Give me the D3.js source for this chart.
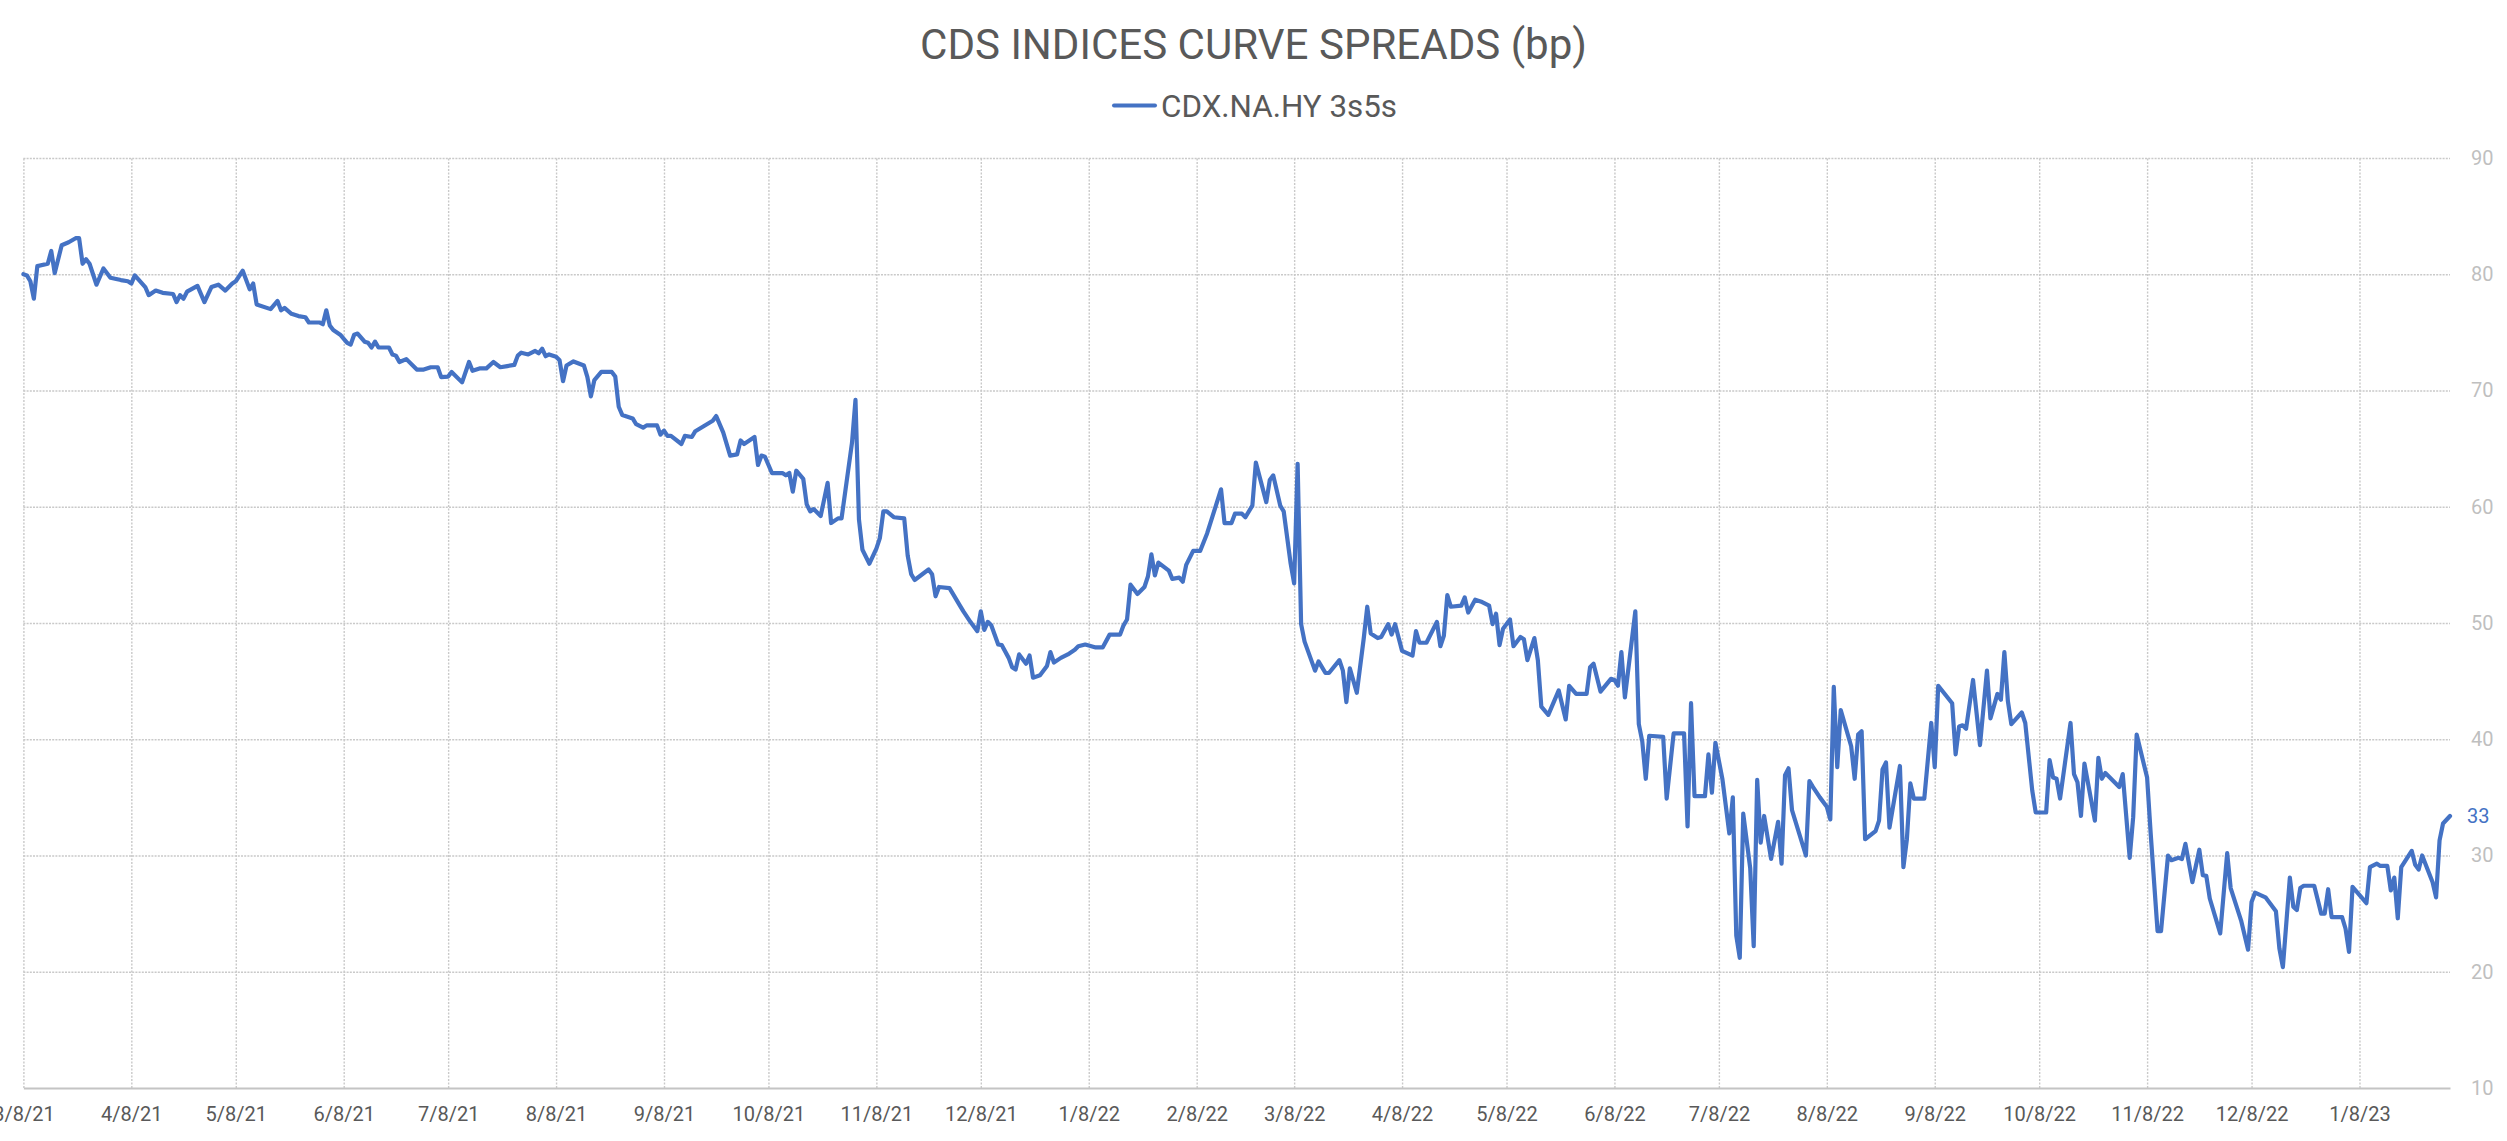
<!DOCTYPE html>
<html>
<head>
<meta charset="utf-8">
<script src="https://cdn.jsdelivr.net/npm/d3@7"></script>
<style>
  html, body { margin: 0; padding: 0; background: #ffffff; }
  svg { display: block; }
</style>
</head>
<body>
<svg id="chart" width="2507" height="1141"></svg>
<script>
// ---------------- DATA ----------------
const chartTitle = "CDS INDICES CURVE SPREADS (bp)";
const seriesName = "CDX.NA.HY 3s5s";

const dates = [
  "2021-03-08","2021-03-09","2021-03-10","2021-03-11","2021-03-12","2021-03-15","2021-03-16","2021-03-17","2021-03-19","2021-03-21","2021-03-23","2021-03-24","2021-03-25","2021-03-26","2021-03-27","2021-03-29","2021-03-31",
  "2021-04-02","2021-04-05","2021-04-07","2021-04-08","2021-04-09","2021-04-12","2021-04-13","2021-04-15","2021-04-17","2021-04-20","2021-04-21","2021-04-22","2021-04-23","2021-04-24","2021-04-27","2021-04-29",
  "2021-05-01","2021-05-03","2021-05-05","2021-05-07","2021-05-08","2021-05-10","2021-05-12","2021-05-13","2021-05-14","2021-05-18","2021-05-20","2021-05-21","2021-05-22","2021-05-24","2021-05-26","2021-05-28","2021-05-29",
  "2021-06-01","2021-06-02","2021-06-03","2021-06-04","2021-06-05","2021-06-07","2021-06-09","2021-06-10","2021-06-11","2021-06-12","2021-06-14","2021-06-15","2021-06-16","2021-06-17","2021-06-18","2021-06-21","2021-06-22","2021-06-23","2021-06-24","2021-06-26","2021-06-29",
  "2021-07-01","2021-07-03","2021-07-05","2021-07-06","2021-07-08","2021-07-09","2021-07-12","2021-07-14","2021-07-15","2021-07-17","2021-07-19","2021-07-21","2021-07-23","2021-07-25","2021-07-27","2021-07-28","2021-07-29","2021-07-31",
  "2021-08-02","2021-08-03","2021-08-04","2021-08-05","2021-08-06","2021-08-08","2021-08-09","2021-08-10","2021-08-11","2021-08-13","2021-08-16","2021-08-17","2021-08-18","2021-08-19","2021-08-21","2021-08-24","2021-08-25","2021-08-26","2021-08-27","2021-08-30","2021-08-31",
  "2021-09-02","2021-09-03","2021-09-06","2021-09-07","2021-09-08","2021-09-09","2021-09-10","2021-09-13","2021-09-14","2021-09-16","2021-09-17","2021-09-22","2021-09-23","2021-09-25","2021-09-27","2021-09-29","2021-09-30",
  "2021-10-01","2021-10-04","2021-10-05","2021-10-06","2021-10-07","2021-10-09","2021-10-12","2021-10-13","2021-10-14","2021-10-15","2021-10-16","2021-10-18","2021-10-19","2021-10-20","2021-10-21","2021-10-23","2021-10-25","2021-10-26","2021-10-28","2021-10-29",
  "2021-11-01","2021-11-02","2021-11-03","2021-11-04","2021-11-06","2021-11-08","2021-11-09","2021-11-10","2021-11-11","2021-11-13","2021-11-16","2021-11-17","2021-11-18","2021-11-19","2021-11-23","2021-11-24","2021-11-25","2021-11-26","2021-11-29","2021-11-30",
  "2021-12-02","2021-12-03","2021-12-05","2021-12-07","2021-12-08","2021-12-09","2021-12-10","2021-12-11","2021-12-13","2021-12-14","2021-12-16","2021-12-17","2021-12-18","2021-12-19","2021-12-21","2021-12-22","2021-12-23","2021-12-25","2021-12-27","2021-12-28","2021-12-29","2021-12-31",
  "2022-01-02","2022-01-04","2022-01-05","2022-01-07","2022-01-10","2022-01-12","2022-01-14","2022-01-17","2022-01-18","2022-01-19","2022-01-20","2022-01-22","2022-01-24","2022-01-25","2022-01-26","2022-01-27","2022-01-28","2022-01-31",
  "2022-02-01","2022-02-03","2022-02-04","2022-02-05","2022-02-07","2022-02-09","2022-02-11","2022-02-15","2022-02-16","2022-02-18","2022-02-19","2022-02-21","2022-02-22","2022-02-24","2022-02-25","2022-02-28",
  "2022-03-01","2022-03-02","2022-03-04","2022-03-05","2022-03-07","2022-03-08","2022-03-09","2022-03-10","2022-03-11","2022-03-14","2022-03-15","2022-03-17","2022-03-18","2022-03-21","2022-03-22","2022-03-23","2022-03-24","2022-03-26","2022-03-28","2022-03-29","2022-03-30",
  "2022-04-01","2022-04-02","2022-04-04","2022-04-05","2022-04-06","2022-04-08","2022-04-11","2022-04-12","2022-04-13","2022-04-15","2022-04-18","2022-04-19","2022-04-20","2022-04-21","2022-04-22","2022-04-25","2022-04-26","2022-04-27","2022-04-29",
  "2022-05-01","2022-05-03","2022-05-04","2022-05-05","2022-05-06","2022-05-07","2022-05-09","2022-05-10","2022-05-12","2022-05-13","2022-05-14","2022-05-16","2022-05-17","2022-05-18","2022-05-20","2022-05-23","2022-05-25","2022-05-26","2022-05-28","2022-05-31",
  "2022-06-01","2022-06-02","2022-06-04","2022-06-07","2022-06-08","2022-06-09","2022-06-10","2022-06-11","2022-06-14","2022-06-15","2022-06-16","2022-06-17","2022-06-18","2022-06-22","2022-06-23","2022-06-25","2022-06-28","2022-06-29","2022-06-30",
  "2022-07-01","2022-07-04","2022-07-05","2022-07-06","2022-07-07","2022-07-09","2022-07-11","2022-07-12","2022-07-13","2022-07-14","2022-07-15","2022-07-17","2022-07-18","2022-07-19","2022-07-20","2022-07-21","2022-07-23","2022-07-25","2022-07-26","2022-07-27","2022-07-28","2022-07-29",
  "2022-08-02","2022-08-03","2022-08-04","2022-08-06","2022-08-08","2022-08-09","2022-08-10","2022-08-11","2022-08-12","2022-08-15","2022-08-16","2022-08-17","2022-08-18","2022-08-19","2022-08-22","2022-08-23","2022-08-24","2022-08-25","2022-08-26","2022-08-29","2022-08-30","2022-08-31",
  "2022-09-01","2022-09-02","2022-09-05","2022-09-07","2022-09-08","2022-09-09","2022-09-13","2022-09-14","2022-09-15","2022-09-16","2022-09-17","2022-09-19","2022-09-21","2022-09-23","2022-09-24","2022-09-26","2022-09-27","2022-09-28","2022-09-29","2022-09-30",
  "2022-10-03","2022-10-04","2022-10-06","2022-10-07","2022-10-10","2022-10-11","2022-10-12","2022-10-13","2022-10-14","2022-10-17","2022-10-18","2022-10-19","2022-10-20","2022-10-21","2022-10-24","2022-10-25","2022-10-26","2022-10-27","2022-10-31",
  "2022-11-01","2022-11-03","2022-11-04","2022-11-05","2022-11-08","2022-11-09","2022-11-11","2022-11-12","2022-11-14","2022-11-15","2022-11-17","2022-11-18","2022-11-19","2022-11-21","2022-11-23","2022-11-24","2022-11-25","2022-11-26","2022-11-29",
  "2022-12-01","2022-12-02","2022-12-05","2022-12-07","2022-12-08","2022-12-09","2022-12-12","2022-12-15","2022-12-16","2022-12-17","2022-12-19","2022-12-20","2022-12-21","2022-12-22","2022-12-23","2022-12-26","2022-12-28","2022-12-29","2022-12-30","2022-12-31",
  "2023-01-03","2023-01-04","2023-01-05","2023-01-06","2023-01-10","2023-01-11","2023-01-13","2023-01-14","2023-01-16","2023-01-17","2023-01-18","2023-01-19","2023-01-20","2023-01-23","2023-01-24","2023-01-25","2023-01-26","2023-01-29","2023-01-30","2023-01-31",
  "2023-02-01","2023-02-03"
];

const values = [
  80.0,79.9,79.4,77.9,80.7,80.9,82.0,80.1,82.5,82.75,83.1,83.1,80.9,81.3,80.9,79.1,80.5,
  79.7,79.5,79.4,79.2,79.9,78.9,78.2,78.6,78.4,78.3,77.6,78.2,77.9,78.5,79.0,77.6,
  78.9,79.1,78.6,79.2,79.4,80.3,78.7,79.2,77.4,77.0,77.7,76.9,77.1,76.6,76.4,76.3,75.85,
  75.85,75.7,76.9,75.6,75.2,74.8,74.1,73.95,74.8,74.9,74.2,74.1,73.7,74.2,73.7,73.7,73.1,73.0,72.45,72.7,71.8,
  71.8,72.0,72.0,71.15,71.2,71.6,70.7,72.45,71.7,71.9,71.9,72.45,72.0,72.1,72.2,73.0,73.25,73.1,
  73.4,73.2,73.6,72.95,73.1,72.9,72.6,70.8,72.15,72.5,72.15,71.15,69.5,70.9,71.6,71.6,71.2,68.6,67.9,67.6,67.1,
  66.8,67.0,67.0,66.2,66.55,66.1,66.1,65.4,66.1,66.0,66.5,67.4,67.8,66.4,64.4,64.5,65.7,
  65.4,66.0,63.6,64.4,64.3,62.9,62.9,62.7,62.9,61.3,63.1,62.4,60.2,59.6,59.8,59.2,62.05,58.6,59.0,59.0,
  65.5,69.2,58.9,56.3,55.1,56.4,57.3,59.6,59.6,59.1,59.0,55.8,54.2,53.7,54.6,54.2,52.3,53.1,53.0,52.5,
  51.5,51.0,50.1,49.3,51.0,49.4,50.1,49.8,48.15,48.1,47.0,46.2,46.0,47.3,46.5,47.2,45.3,45.5,46.3,47.5,46.6,47.0,
  47.3,47.7,48.0,48.15,47.9,47.9,49.0,49.0,49.8,50.3,53.3,52.5,53.1,54.0,55.9,54.1,55.2,54.5,
  53.8,53.9,53.55,55.0,56.2,56.2,57.7,61.5,58.6,58.6,59.4,59.4,59.1,60.1,63.8,60.4,
  62.3,62.7,60.1,59.6,55.1,53.4,63.7,49.9,48.4,45.9,46.7,45.7,45.7,46.8,45.9,43.2,46.1,44.0,48.7,51.4,49.1,
  48.7,48.8,49.9,49.0,49.9,47.6,47.2,49.3,48.3,48.3,50.1,48.0,48.9,52.4,51.4,51.5,52.2,50.9,52.0,
  51.8,51.5,49.9,50.8,48.1,49.5,50.3,48.0,48.8,48.6,46.8,48.7,46.8,42.8,42.1,44.2,41.7,44.6,43.9,43.9,
  46.2,46.5,44.1,45.2,45.1,44.6,47.5,43.6,51.0,41.3,39.8,36.6,40.3,40.2,34.9,40.5,40.5,32.5,43.1,
  35.1,35.1,38.7,35.4,39.7,36.6,31.9,35.0,23.1,21.2,33.6,28.9,22.2,36.5,31.1,33.4,29.7,32.9,29.3,36.9,37.5,33.9,
  30.0,36.4,35.9,35.0,34.2,33.1,44.5,37.6,42.5,39.4,36.6,40.4,40.7,31.4,32.1,33.0,37.4,38.0,32.4,37.7,29.0,31.4,
  36.2,34.9,34.9,41.4,37.6,44.6,43.1,38.7,41.1,41.2,40.9,45.1,39.5,45.9,41.8,43.9,43.4,47.5,43.3,41.3,
  42.3,41.4,35.6,33.7,33.7,38.2,36.7,36.6,34.9,41.4,37.0,36.3,33.4,37.9,33.0,38.4,36.6,37.1,35.9,
  37.0,29.8,33.3,40.4,36.7,32.0,23.5,23.5,30.0,29.6,29.8,29.7,31.0,27.7,30.5,28.3,28.25,26.3,23.3,
  30.2,27.2,24.4,21.9,26.0,26.8,26.4,25.2,22.0,20.4,28.1,25.6,25.3,27.2,27.4,27.4,25.0,25.0,27.1,24.7,
  24.7,23.7,21.7,27.3,25.9,29.0,29.3,29.1,29.1,27.0,28.1,24.6,29.0,30.4,29.2,28.8,30.0,27.7,26.4,31.3,
  32.75,33.4
];

const xTickLabels = ["3/8/21","4/8/21","5/8/21","6/8/21","7/8/21","8/8/21","9/8/21","10/8/21","11/8/21","12/8/21",
  "1/8/22","2/8/22","3/8/22","4/8/22","5/8/22","6/8/22","7/8/22","8/8/22","9/8/22","10/8/22","11/8/22","12/8/22","1/8/23"];
const yTicks = [10, 20, 30, 40, 50, 60, 70, 80, 90];
const yDomain = [10, 90];

// ---------------- SETUP ----------------
const W = 2507, H = 1141;
const plot = { left: 23.4, right: 2450, top: 158, bottom: 1088 };
const BLUE = "#4472C4";
const FONT = "Roboto, 'DejaVu Sans', sans-serif";

const parseISO = d3.timeParse("%Y-%m-%d");
const parseTick = d3.timeParse("%m/%d/%y");
const fmtTick = d3.timeFormat("%-m/%-d/%y");

const data = dates.map((d, i) => ({ date: parseISO(d), value: values[i] }));
const tickDates = xTickLabels.map(parseTick);

const x = d3.scaleTime()
  .domain([tickDates[0], data[data.length - 1].date])
  .range([plot.left, plot.right]);
const y = d3.scaleLinear().domain(yDomain).range([plot.bottom, plot.top]);

const svg = d3.select("#chart");
svg.append("rect").attr("width", W).attr("height", H).attr("fill", "#ffffff");

// ---------------- GRID ----------------
const gridX = svg.append("g").attr("transform", `translate(0,${plot.bottom})`)
  .call(d3.axisBottom(x).tickValues(tickDates).tickSize(-(plot.bottom - plot.top)).tickFormat(""));
gridX.select(".domain").remove();
gridX.selectAll(".tick line")
  .attr("stroke", "#c9c9c9").attr("stroke-width", 1.4).attr("stroke-dasharray", "2,1.5");

const gridY = svg.append("g").attr("transform", `translate(${plot.left},0)`)
  .call(d3.axisLeft(y).tickValues(yTicks.filter(v => v !== yDomain[0]))
    .tickSize(-(plot.right - plot.left)).tickFormat(""));
gridY.select(".domain").remove();
gridY.selectAll(".tick line")
  .attr("stroke", "#c9c9c9").attr("stroke-width", 1.6).attr("stroke-dasharray", "2,1.2");

// ---------------- AXES ----------------
const xAxis = svg.append("g").attr("transform", `translate(0,${plot.bottom})`)
  .call(d3.axisBottom(x).tickValues(tickDates).tickFormat(fmtTick).tickSize(0).tickPadding(19));
xAxis.select(".domain").attr("stroke", "#c4c4c4").attr("stroke-width", 2);
xAxis.selectAll(".tick text")
  .attr("fill", "#595959").style("font-family", FONT).style("font-size", "20px");

const yAxis = svg.append("g").attr("transform", `translate(${plot.right},0)`)
  .call(d3.axisRight(y).tickValues(yTicks).tickSize(0).tickPadding(21));
yAxis.select(".domain").remove();
yAxis.selectAll(".tick text")
  .attr("fill", "#bfbfbf").style("font-family", FONT).style("font-size", "20px");

// ---------------- LINE ----------------
const line = d3.line().x(d => x(d.date)).y(d => y(d.value));
svg.append("path").datum(data)
  .attr("fill", "none").attr("stroke", BLUE).attr("stroke-width", 4.2)
  .attr("stroke-linejoin", "round").attr("stroke-linecap", "round")
  .attr("d", line);

// end label
const last = data[data.length - 1];
svg.append("text")
  .attr("x", x(last.date) + 17).attr("y", y(last.value))
  .attr("dy", "0.35em")
  .attr("fill", BLUE).style("font-family", FONT).style("font-size", "20px")
  .text(d3.format(".0f")(last.value));

// ---------------- TITLE & LEGEND ----------------
svg.append("text")
  .attr("x", W / 2).attr("y", 59).attr("text-anchor", "middle")
  .attr("fill", "#595959").style("font-family", FONT).style("font-size", "42px")
  .attr("textLength", 667).attr("lengthAdjust", "spacingAndGlyphs")
  .text(chartTitle);

const legend = svg.append("g");
legend.append("line")
  .attr("x1", 1114).attr("x2", 1155).attr("y1", 105.5).attr("y2", 105.5)
  .attr("stroke", BLUE).attr("stroke-width", 4).attr("stroke-linecap", "round");
legend.append("text")
  .attr("x", 1161).attr("y", 117)
  .attr("fill", "#595959").style("font-family", FONT).style("font-size", "32px")
  .attr("textLength", 236).attr("lengthAdjust", "spacingAndGlyphs")
  .text(seriesName);
</script>
</body>
</html>
